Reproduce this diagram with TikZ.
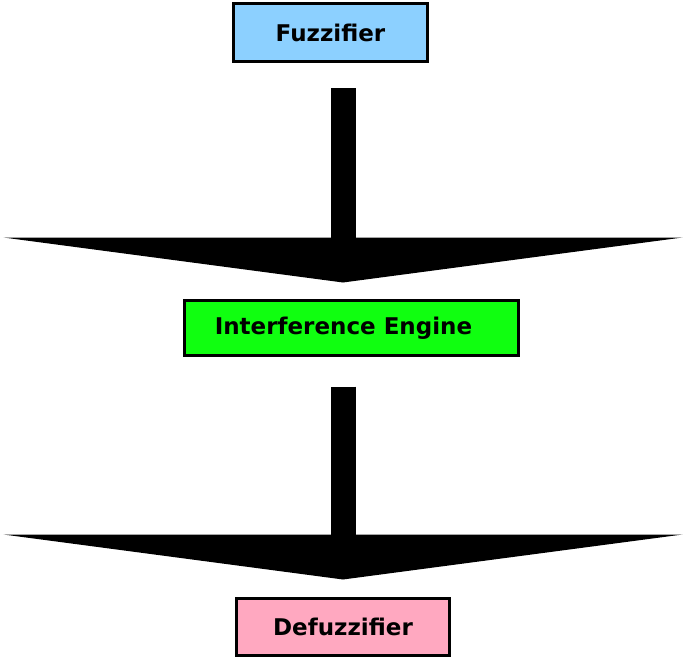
\documentclass[tikz,border=0pt]{standalone}
\usepackage{fontspec}
\setmainfont{DejaVu Sans}
\usetikzlibrary{arrows.meta}
\definecolor{fuzzblue}{RGB}{140,208,255}
\definecolor{enginegreen}{RGB}{16,255,16}
\definecolor{defuzzpink}{RGB}{255,168,192}
\tikzset{
    stagebox/.style={draw=black, line width=3pt, inner sep=0pt, font=\bfseries\fontsize{23}{27}\selectfont},
    bigarrow/.style={line width=25pt, -{Triangle[width=679pt,length=45pt,line width=0pt]}}
}
\begin{document}
\begin{tikzpicture}[x=1pt,y=-1pt]
        \useasboundingbox (0,0) rectangle (685,658);
        \node[stagebox, fill=fuzzblue, minimum width=194pt, minimum height=58pt] (fuzz) at (330.5,32.5) {Fuzzifier};
        \node[stagebox, fill=enginegreen, minimum width=334pt, minimum height=55pt] (engine) at (351.5,328) {\hspace*{-16pt}Interference Engine};
        \node[stagebox, fill=defuzzpink, minimum width=213pt, minimum height=57pt] (defuzz) at (343,627) {Defuzzifier};
        \draw[bigarrow, shorten <=25.5pt, shorten >=16.5pt] (fuzz.south -| defuzz.north) -- (engine.north -| defuzz.north);
        \draw[bigarrow, shorten <=29.5pt, shorten >=17.5pt] (engine.south -| defuzz.north) -- (defuzz.north);
\end{tikzpicture}
\end{document}
